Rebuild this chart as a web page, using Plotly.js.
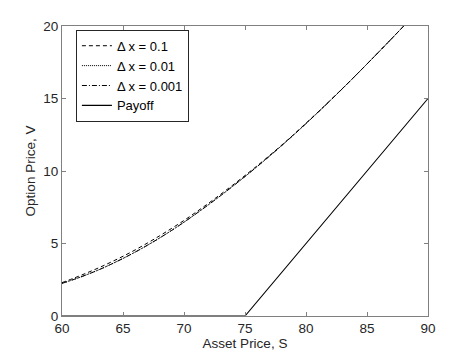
<!DOCTYPE html>
<html><head><meta charset="utf-8">
<script src="https://cdn.plot.ly/plotly-3.0.1.min.js"></script>
<style>body{margin:0;background:#fff}#c{width:474px;height:355px}</style>
</head><body><div id="c"></div>
<script>
const S = [60,61,62,63,64,65,66,67,68,69,70,71,72,73,74,75,76,77,78,79,80,81,82,83,84,85,86,87,88,89,90];
const V_dx01 = [2.30,2.62,2.96,3.32,3.71,4.12,4.56,5.03,5.53,6.05,6.59,7.17,7.77,8.39,9.03,9.69,10.36,11.06,11.78,12.52,13.30,14.08,14.88,15.70,16.53,17.38,18.24,19.11,19.99,20.88,21.78];
const V_dx001 = [2.25,2.53,2.84,3.18,3.56,3.97,4.41,4.88,5.38,5.91,6.47,7.06,7.67,8.30,8.95,9.62,10.31,11.02,11.75,12.50,13.27,14.06,14.87,15.69,16.53,17.38,18.24,19.11,19.99,20.88,21.78];
const V_dx0001 = [2.25,2.53,2.84,3.18,3.56,3.97,4.41,4.88,5.38,5.91,6.47,7.06,7.67,8.30,8.95,9.62,10.31,11.02,11.75,12.50,13.27,14.06,14.87,15.69,16.53,17.38,18.24,19.11,19.99,20.88,21.78];
const payoffS = [60,75,90];
const payoffV = [0,0,15];
const names = ["Δ x = 0.1","Δ x = 0.01","Δ x = 0.001","Payoff"];

const traces = [
  {x:S,y:V_dx01,name:names[0],mode:'lines',line:{color:'#000',width:1,dash:'4px,3px',shape:'spline'}},
  {x:S,y:V_dx001,name:names[1],mode:'lines',line:{color:'#000',width:1,dash:'1px,1px',shape:'spline'}},
  {x:S,y:V_dx0001,name:names[2],mode:'lines',line:{color:'#000',width:1,dash:'5px,2px,1px,2px',shape:'spline'}},
  {x:payoffS,y:payoffV,name:names[3],mode:'lines',line:{color:'#000',width:1.1}}
];
const tf = {family:'Liberation Sans, Arial',size:13.5,color:'#262626'};
const axisCommon = {showline:true,mirror:'ticks',linecolor:'#808080',linewidth:1,ticks:'inside',ticklen:4,tickcolor:'#808080',showgrid:false,zeroline:false,tickfont:tf};
const layout = {
  width:474,height:355,
  margin:{l:62,r:46,t:26,b:39},
  paper_bgcolor:'#fff',plot_bgcolor:'#fff',
  font:{family:'Liberation Sans, Arial',size:13,color:'#262626'},
  xaxis:Object.assign({},axisCommon,{range:[60,90],tickvals:[60,65,70,75,80,85,90],title:{text:'Asset Price, S',standoff:0,font:tf}}),
  yaxis:Object.assign({},axisCommon,{range:[0,20],tickvals:[0,5,10,15,20],title:{text:'Option Price, V',standoff:4,font:tf}}),
  showlegend:true,
  legend:{x:0.038,y:0.987,xanchor:'left',yanchor:'top',bgcolor:'#fff',bordercolor:'#262626',borderwidth:1,font:{family:'Liberation Sans, Arial',size:13,color:'#000'},tracegroupgap:0,itemwidth:30}
};
Plotly.newPlot('c',traces,layout,{displayModeBar:false,staticPlot:true});
</script></body></html>
